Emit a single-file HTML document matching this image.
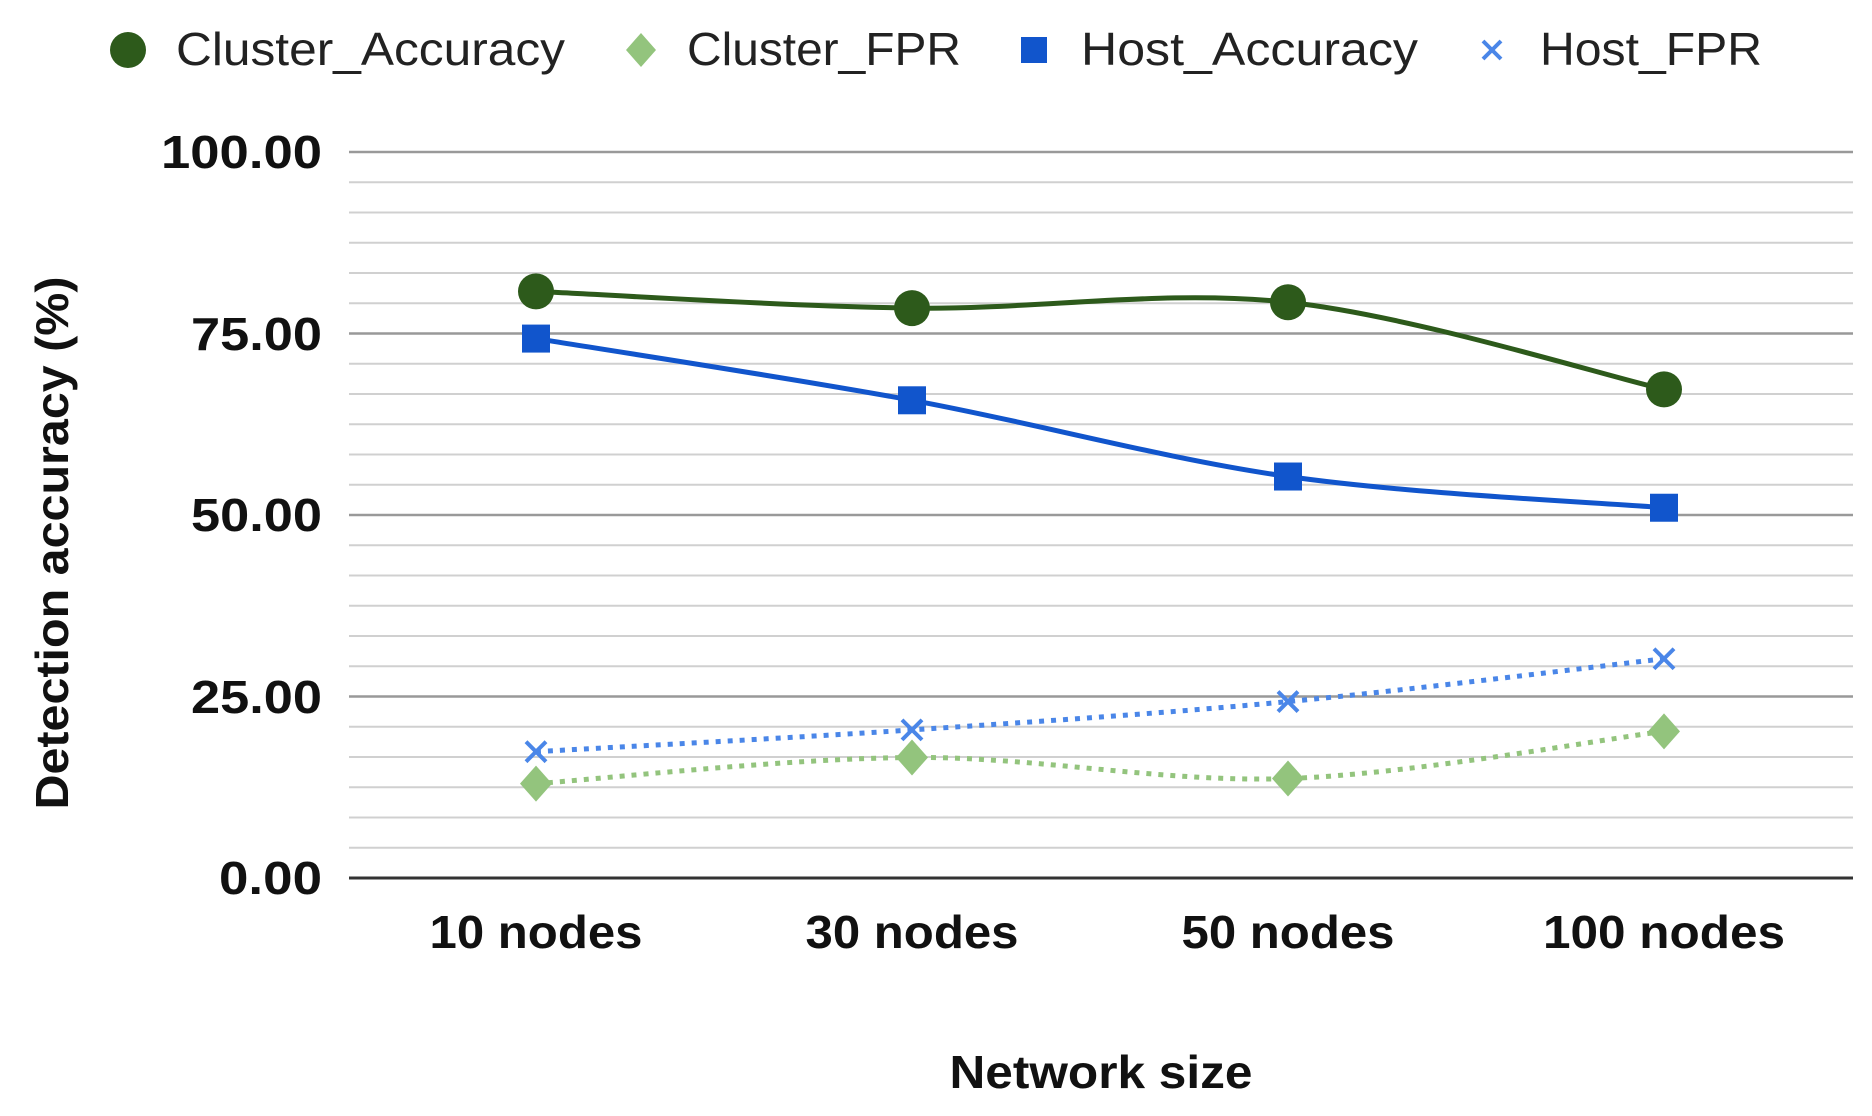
<!DOCTYPE html>
<html><head><meta charset="utf-8"><style>
html,body{margin:0;padding:0;background:#fff;}
svg{display:block;font-family:"Liberation Sans",sans-serif;}
</style></head><body>
<svg id="s" width="1872" height="1116" viewBox="0 0 1872 1116" xmlns="http://www.w3.org/2000/svg">
<g id="grid"></g>
<g id="series"></g>
<circle cx="128" cy="50" r="18" fill="#2d5a1b"/>
<text x="176" y="65" font-size="46" fill="#222" textLength="389" lengthAdjust="spacingAndGlyphs">Cluster_Accuracy</text>
<polygon points="641,33 656,50 641,67 626,50" fill="#93c47d"/>
<text x="687" y="65" font-size="46" fill="#222" textLength="274" lengthAdjust="spacingAndGlyphs">Cluster_FPR</text>
<rect x="1021" y="37" width="26" height="26" fill="#1155cc"/>
<text x="1081" y="65" font-size="46" fill="#222" textLength="337" lengthAdjust="spacingAndGlyphs">Host_Accuracy</text>
<g stroke="#4a86e8" stroke-width="4"><line x1="1483" y1="41" x2="1501" y2="59"/><line x1="1501" y1="41" x2="1483" y2="59"/></g>
<text x="1540" y="65" font-size="46" fill="#222" textLength="222" lengthAdjust="spacingAndGlyphs">Host_FPR</text>
<g font-size="46" font-weight="bold" fill="#111" text-anchor="end">
<text x="322" y="168" textLength="161" lengthAdjust="spacingAndGlyphs">100.00</text>
<text x="322" y="350" textLength="131" lengthAdjust="spacingAndGlyphs">75.00</text>
<text x="322" y="531" textLength="131" lengthAdjust="spacingAndGlyphs">50.00</text>
<text x="322" y="713" textLength="131" lengthAdjust="spacingAndGlyphs">25.00</text>
<text x="322" y="894" textLength="103" lengthAdjust="spacingAndGlyphs">0.00</text>
</g>
<g font-size="46" font-weight="bold" fill="#111" text-anchor="middle">
<text x="536" y="948" textLength="213" lengthAdjust="spacingAndGlyphs">10 nodes</text>
<text x="912" y="948" textLength="213" lengthAdjust="spacingAndGlyphs">30 nodes</text>
<text x="1288" y="948" textLength="213" lengthAdjust="spacingAndGlyphs">50 nodes</text>
<text x="1664" y="948" textLength="242" lengthAdjust="spacingAndGlyphs">100 nodes</text>
<text x="1101" y="1088" textLength="303" lengthAdjust="spacingAndGlyphs">Network size</text>
<text transform="translate(68,543) rotate(-90)" x="0" y="0" textLength="533" lengthAdjust="spacingAndGlyphs">Detection accuracy (%)</text>
</g>
</svg>
<script>
var NS="http://www.w3.org/2000/svg";
function el(t,a,p){var e=document.createElementNS(NS,t);for(var k in a)e.setAttribute(k,a[k]);p.appendChild(e);return e;}
var g=document.getElementById('grid'),s=document.getElementById('series');
var y0=878,k=7.26,x1=349,x2=1853;
for(var i=0;i<=24;i++){var v=i*25/6;var y=y0-v*k;var major=(i%6==0);
el('line',{x1:x1,x2:x2,y1:y,y2:y,stroke:major?(i==0?'#333':'#999'):'#d0d0d0','stroke-width':major?(i==0?3:2.5):2},g);}
var X=[536,912,1288,1664];
function Y(v){return y0-v*k;}
function path(vals){var P=vals.map(function(v,i){return [X[i],Y(v)];});var d='M'+P[0][0]+','+P[0][1];
for(var i=0;i<P.length-1;i++){var p0=P[i-1]||P[i],p1=P[i],p2=P[i+1],p3=P[i+2]||P[i+1];var t=1/6;
d+=' C'+(p1[0]+(p2[0]-p0[0])*t)+','+(p1[1]+(p2[1]-p0[1])*t)+' '+(p2[0]-(p3[0]-p1[0])*t)+','+(p2[1]-(p3[1]-p1[1])*t)+' '+p2[0]+','+p2[1];}return d;}
var CA=[80.8,78.5,79.3,67.3],HA=[74.3,65.8,55.3,51.0],HF=[17.4,20.4,24.3,30.2],CF=[13.0,16.6,13.7,20.2];
el('path',{d:path(CF),fill:'none',stroke:'#93c47d','stroke-width':5,'stroke-dasharray':'5 7'},s);
el('path',{d:path(HF),fill:'none',stroke:'#4a86e8','stroke-width':5,'stroke-dasharray':'5 7'},s);
el('path',{d:path(HA),fill:'none',stroke:'#1155cc','stroke-width':5},s);
el('path',{d:path(CA),fill:'none',stroke:'#2d5a1b','stroke-width':5},s);
X.forEach(function(x,i){
var y=Y(CF[i]);el('polygon',{points:(x)+','+(y-18)+' '+(x+16)+','+y+' '+x+','+(y+18)+' '+(x-16)+','+y,fill:'#93c47d'},s);
y=Y(HF[i]);el('line',{x1:x-10,y1:y-10,x2:x+10,y2:y+10,stroke:'#4a86e8','stroke-width':4},s);el('line',{x1:x+10,y1:y-10,x2:x-10,y2:y+10,stroke:'#4a86e8','stroke-width':4},s);
y=Y(HA[i]);el('rect',{x:x-14,y:y-14,width:28,height:28,fill:'#1155cc'},s);
y=Y(CA[i]);el('circle',{cx:x,cy:y,r:18,fill:'#2d5a1b'},s);
});
</script>
</body></html>
